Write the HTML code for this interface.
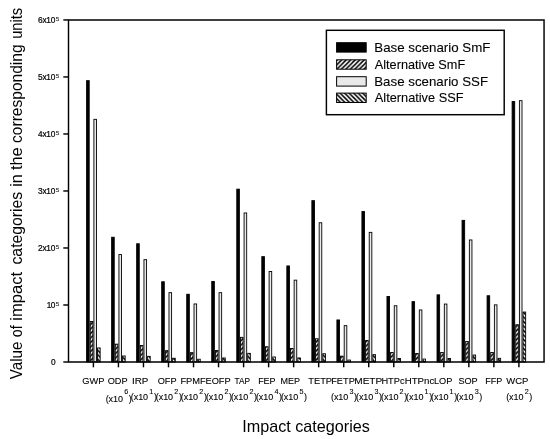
<!DOCTYPE html>
<html><head><meta charset="utf-8"><title>Impact categories</title>
<style>html,body{margin:0;padding:0;background:#fff}body{width:550px;height:439px;overflow:hidden}svg{display:block}text{font-family:"Liberation Sans",Arial,sans-serif;fill:#000}.b{stroke:#000;stroke-width:0.2px}.c{stroke:#000;stroke-width:0.1px}.d{stroke:#000;stroke-width:0.1px}</style>
</head><body>
<svg width="550" height="439" viewBox="0 0 550 439">
<defs>
<pattern id="h1" patternUnits="userSpaceOnUse" width="4.5" height="4.5" x="0.3" y="0.8"><rect width="4.5" height="4.5" fill="#fff"/><path d="M-1,1 L1,-1 M-1,5.5 L5.5,-1 M3.5,5.5 L5.5,3.5" stroke="#000" stroke-width="1.5"/></pattern>
<pattern id="h2" patternUnits="userSpaceOnUse" width="4.5" height="4.5" x="0.3" y="0.8"><rect width="4.5" height="4.5" fill="#fff"/><path d="M-1,3.5 L1,5.5 M-1,-1 L5.5,5.5 M3.5,-1 L5.5,1" stroke="#000" stroke-width="1.5"/></pattern>
</defs>
<rect width="550" height="439" fill="#fff"/>
<rect x="86.60" y="80.65" width="2.60" height="281.35" fill="#000" stroke="#000" stroke-width="0.9"/>
<rect x="90.25" y="321.55" width="2.60" height="40.45" fill="url(#h1)" stroke="#000" stroke-width="0.9"/>
<rect x="93.90" y="119.35" width="2.60" height="242.65" fill="#e9e9e9" stroke="#000" stroke-width="0.9"/>
<rect x="97.55" y="347.95" width="2.60" height="14.05" fill="url(#h2)" stroke="#000" stroke-width="0.9"/>
<rect x="111.63" y="237.25" width="2.60" height="124.75" fill="#000" stroke="#000" stroke-width="0.9"/>
<rect x="115.28" y="344.15" width="2.60" height="17.85" fill="url(#h1)" stroke="#000" stroke-width="0.9"/>
<rect x="118.93" y="254.55" width="2.60" height="107.45" fill="#e9e9e9" stroke="#000" stroke-width="0.9"/>
<rect x="122.58" y="355.95" width="2.60" height="6.05" fill="url(#h2)" stroke="#000" stroke-width="0.9"/>
<rect x="136.66" y="243.75" width="2.60" height="118.25" fill="#000" stroke="#000" stroke-width="0.9"/>
<rect x="140.31" y="345.55" width="2.60" height="16.45" fill="url(#h1)" stroke="#000" stroke-width="0.9"/>
<rect x="143.96" y="259.65" width="2.60" height="102.35" fill="#e9e9e9" stroke="#000" stroke-width="0.9"/>
<rect x="147.61" y="356.35" width="2.60" height="5.65" fill="url(#h2)" stroke="#000" stroke-width="0.9"/>
<rect x="161.69" y="281.75" width="2.60" height="80.25" fill="#000" stroke="#000" stroke-width="0.9"/>
<rect x="165.34" y="350.65" width="2.60" height="11.35" fill="url(#h1)" stroke="#000" stroke-width="0.9"/>
<rect x="168.99" y="292.65" width="2.60" height="69.35" fill="#e9e9e9" stroke="#000" stroke-width="0.9"/>
<rect x="172.64" y="358.25" width="2.60" height="3.75" fill="url(#h2)" stroke="#000" stroke-width="0.9"/>
<rect x="186.72" y="294.25" width="2.60" height="67.75" fill="#000" stroke="#000" stroke-width="0.9"/>
<rect x="190.37" y="352.65" width="2.60" height="9.35" fill="url(#h1)" stroke="#000" stroke-width="0.9"/>
<rect x="194.02" y="303.95" width="2.60" height="58.05" fill="#e9e9e9" stroke="#000" stroke-width="0.9"/>
<rect x="197.67" y="359.25" width="2.60" height="2.75" fill="url(#h2)" stroke="#000" stroke-width="0.9"/>
<rect x="211.75" y="281.55" width="2.60" height="80.45" fill="#000" stroke="#000" stroke-width="0.9"/>
<rect x="215.40" y="350.45" width="2.60" height="11.55" fill="url(#h1)" stroke="#000" stroke-width="0.9"/>
<rect x="219.05" y="292.65" width="2.60" height="69.35" fill="#e9e9e9" stroke="#000" stroke-width="0.9"/>
<rect x="222.70" y="357.95" width="2.60" height="4.05" fill="url(#h2)" stroke="#000" stroke-width="0.9"/>
<rect x="236.78" y="189.15" width="2.60" height="172.85" fill="#000" stroke="#000" stroke-width="0.9"/>
<rect x="240.43" y="337.35" width="2.60" height="24.65" fill="url(#h1)" stroke="#000" stroke-width="0.9"/>
<rect x="244.08" y="212.95" width="2.60" height="149.05" fill="#e9e9e9" stroke="#000" stroke-width="0.9"/>
<rect x="247.73" y="353.35" width="2.60" height="8.65" fill="url(#h2)" stroke="#000" stroke-width="0.9"/>
<rect x="261.81" y="256.65" width="2.60" height="105.35" fill="#000" stroke="#000" stroke-width="0.9"/>
<rect x="265.46" y="346.75" width="2.60" height="15.25" fill="url(#h1)" stroke="#000" stroke-width="0.9"/>
<rect x="269.11" y="271.45" width="2.60" height="90.55" fill="#e9e9e9" stroke="#000" stroke-width="0.9"/>
<rect x="272.76" y="356.95" width="2.60" height="5.05" fill="url(#h2)" stroke="#000" stroke-width="0.9"/>
<rect x="286.84" y="265.95" width="2.60" height="96.05" fill="#000" stroke="#000" stroke-width="0.9"/>
<rect x="290.49" y="348.45" width="2.60" height="13.55" fill="url(#h1)" stroke="#000" stroke-width="0.9"/>
<rect x="294.14" y="280.15" width="2.60" height="81.85" fill="#e9e9e9" stroke="#000" stroke-width="0.9"/>
<rect x="297.79" y="357.95" width="2.60" height="4.05" fill="url(#h2)" stroke="#000" stroke-width="0.9"/>
<rect x="311.87" y="200.65" width="2.60" height="161.35" fill="#000" stroke="#000" stroke-width="0.9"/>
<rect x="315.52" y="338.75" width="2.60" height="23.25" fill="url(#h1)" stroke="#000" stroke-width="0.9"/>
<rect x="319.17" y="222.75" width="2.60" height="139.25" fill="#e9e9e9" stroke="#000" stroke-width="0.9"/>
<rect x="322.82" y="353.75" width="2.60" height="8.25" fill="url(#h2)" stroke="#000" stroke-width="0.9"/>
<rect x="336.90" y="319.95" width="2.60" height="42.05" fill="#000" stroke="#000" stroke-width="0.9"/>
<rect x="340.55" y="356.15" width="2.60" height="5.85" fill="url(#h1)" stroke="#000" stroke-width="0.9"/>
<rect x="344.20" y="325.65" width="2.60" height="36.35" fill="#e9e9e9" stroke="#000" stroke-width="0.9"/>
<rect x="347.85" y="360.05" width="2.60" height="1.95" fill="url(#h2)" stroke="#000" stroke-width="0.9"/>
<rect x="361.93" y="211.55" width="2.60" height="150.45" fill="#000" stroke="#000" stroke-width="0.9"/>
<rect x="365.58" y="340.45" width="2.60" height="21.55" fill="url(#h1)" stroke="#000" stroke-width="0.9"/>
<rect x="369.23" y="232.35" width="2.60" height="129.65" fill="#e9e9e9" stroke="#000" stroke-width="0.9"/>
<rect x="372.88" y="354.65" width="2.60" height="7.35" fill="url(#h2)" stroke="#000" stroke-width="0.9"/>
<rect x="386.96" y="296.55" width="2.60" height="65.45" fill="#000" stroke="#000" stroke-width="0.9"/>
<rect x="390.61" y="352.45" width="2.60" height="9.55" fill="url(#h1)" stroke="#000" stroke-width="0.9"/>
<rect x="394.26" y="305.75" width="2.60" height="56.25" fill="#e9e9e9" stroke="#000" stroke-width="0.9"/>
<rect x="397.91" y="358.55" width="2.60" height="3.45" fill="url(#h2)" stroke="#000" stroke-width="0.9"/>
<rect x="411.99" y="301.65" width="2.60" height="60.35" fill="#000" stroke="#000" stroke-width="0.9"/>
<rect x="415.64" y="353.55" width="2.60" height="8.45" fill="url(#h1)" stroke="#000" stroke-width="0.9"/>
<rect x="419.29" y="309.95" width="2.60" height="52.05" fill="#e9e9e9" stroke="#000" stroke-width="0.9"/>
<rect x="422.94" y="359.05" width="2.60" height="2.95" fill="url(#h2)" stroke="#000" stroke-width="0.9"/>
<rect x="437.02" y="294.85" width="2.60" height="67.15" fill="#000" stroke="#000" stroke-width="0.9"/>
<rect x="440.67" y="352.45" width="2.60" height="9.55" fill="url(#h1)" stroke="#000" stroke-width="0.9"/>
<rect x="444.32" y="304.05" width="2.60" height="57.95" fill="#e9e9e9" stroke="#000" stroke-width="0.9"/>
<rect x="447.97" y="358.45" width="2.60" height="3.55" fill="url(#h2)" stroke="#000" stroke-width="0.9"/>
<rect x="462.05" y="220.35" width="2.60" height="141.65" fill="#000" stroke="#000" stroke-width="0.9"/>
<rect x="465.70" y="341.55" width="2.60" height="20.45" fill="url(#h1)" stroke="#000" stroke-width="0.9"/>
<rect x="469.35" y="239.95" width="2.60" height="122.05" fill="#e9e9e9" stroke="#000" stroke-width="0.9"/>
<rect x="473.00" y="355.05" width="2.60" height="6.95" fill="url(#h2)" stroke="#000" stroke-width="0.9"/>
<rect x="487.08" y="295.75" width="2.60" height="66.25" fill="#000" stroke="#000" stroke-width="0.9"/>
<rect x="490.73" y="352.45" width="2.60" height="9.55" fill="url(#h1)" stroke="#000" stroke-width="0.9"/>
<rect x="494.38" y="304.85" width="2.60" height="57.15" fill="#e9e9e9" stroke="#000" stroke-width="0.9"/>
<rect x="498.03" y="358.35" width="2.60" height="3.65" fill="url(#h2)" stroke="#000" stroke-width="0.9"/>
<rect x="512.11" y="101.55" width="2.60" height="260.45" fill="#000" stroke="#000" stroke-width="0.9"/>
<rect x="515.76" y="324.75" width="2.60" height="37.25" fill="url(#h1)" stroke="#000" stroke-width="0.9"/>
<rect x="519.41" y="100.65" width="2.60" height="261.35" fill="#e9e9e9" stroke="#000" stroke-width="0.9"/>
<rect x="523.06" y="312.05" width="2.60" height="49.95" fill="url(#h2)" stroke="#000" stroke-width="0.9"/>
<path d="M68.5,19.95 H544.05 V362.0 H68.5 Z" fill="none" stroke="#000" stroke-width="1.45"/>
<path d="M63.3,362.00 H68.5" stroke="#000" stroke-width="1.45"/>
<text x="55.6" y="365.00" font-size="8.3" text-anchor="end" class="b">0</text>
<path d="M63.3,304.99 H68.5" stroke="#000" stroke-width="1.45"/>
<text x="46.7" y="307.99" font-size="8.3" textLength="8.6" lengthAdjust="spacing" class="b">10</text>
<text x="55.7" y="305.69" font-size="5.9" textLength="3.6" lengthAdjust="spacingAndGlyphs" fill="#222">5</text>
<path d="M63.3,247.98 H68.5" stroke="#000" stroke-width="1.45"/>
<text x="38.1" y="250.98" font-size="8.3" textLength="17.2" lengthAdjust="spacing" class="b">2x10</text>
<text x="55.7" y="248.68" font-size="5.9" textLength="3.6" lengthAdjust="spacingAndGlyphs" fill="#222">5</text>
<path d="M63.3,190.97 H68.5" stroke="#000" stroke-width="1.45"/>
<text x="38.1" y="193.97" font-size="8.3" textLength="17.2" lengthAdjust="spacing" class="b">3x10</text>
<text x="55.7" y="191.67" font-size="5.9" textLength="3.6" lengthAdjust="spacingAndGlyphs" fill="#222">5</text>
<path d="M63.3,133.97 H68.5" stroke="#000" stroke-width="1.45"/>
<text x="38.1" y="136.97" font-size="8.3" textLength="17.2" lengthAdjust="spacing" class="b">4x10</text>
<text x="55.7" y="134.67" font-size="5.9" textLength="3.6" lengthAdjust="spacingAndGlyphs" fill="#222">5</text>
<path d="M63.3,76.96 H68.5" stroke="#000" stroke-width="1.45"/>
<text x="38.1" y="79.96" font-size="8.3" textLength="17.2" lengthAdjust="spacing" class="b">5x10</text>
<text x="55.7" y="77.66" font-size="5.9" textLength="3.6" lengthAdjust="spacingAndGlyphs" fill="#222">5</text>
<path d="M63.3,19.95 H68.5" stroke="#000" stroke-width="1.45"/>
<text x="38.1" y="22.95" font-size="8.3" textLength="17.2" lengthAdjust="spacing" class="b">6x10</text>
<text x="55.7" y="20.65" font-size="5.9" textLength="3.6" lengthAdjust="spacingAndGlyphs" fill="#222">5</text>
<path d="M93.40,362.0 V367.3" stroke="#000" stroke-width="1.45"/>
<path d="M118.43,362.0 V367.3" stroke="#000" stroke-width="1.45"/>
<path d="M143.46,362.0 V367.3" stroke="#000" stroke-width="1.45"/>
<path d="M168.49,362.0 V367.3" stroke="#000" stroke-width="1.45"/>
<path d="M193.52,362.0 V367.3" stroke="#000" stroke-width="1.45"/>
<path d="M218.55,362.0 V367.3" stroke="#000" stroke-width="1.45"/>
<path d="M243.58,362.0 V367.3" stroke="#000" stroke-width="1.45"/>
<path d="M268.61,362.0 V367.3" stroke="#000" stroke-width="1.45"/>
<path d="M293.64,362.0 V367.3" stroke="#000" stroke-width="1.45"/>
<path d="M318.67,362.0 V367.3" stroke="#000" stroke-width="1.45"/>
<path d="M343.70,362.0 V367.3" stroke="#000" stroke-width="1.45"/>
<path d="M368.73,362.0 V367.3" stroke="#000" stroke-width="1.45"/>
<path d="M393.76,362.0 V367.3" stroke="#000" stroke-width="1.45"/>
<path d="M418.79,362.0 V367.3" stroke="#000" stroke-width="1.45"/>
<path d="M443.82,362.0 V367.3" stroke="#000" stroke-width="1.45"/>
<path d="M468.85,362.0 V367.3" stroke="#000" stroke-width="1.45"/>
<path d="M493.88,362.0 V367.3" stroke="#000" stroke-width="1.45"/>
<path d="M518.91,362.0 V367.3" stroke="#000" stroke-width="1.45"/>
<text transform="translate(82.18,383.5) scale(1.0341,1)" font-size="9" class="c">GWP</text>
<text transform="translate(107.72,383.5) scale(1.0201,1)" font-size="9" class="c">ODP</text>
<text transform="translate(132.04,383.5) scale(1.0936,1)" font-size="9" class="c">IRP</text>
<text transform="translate(157.72,383.5) scale(1.0213,1)" font-size="9" class="c">OFP</text>
<text transform="translate(180.42,383.5) scale(1.0353,1)" font-size="9" class="c">FPMF</text>
<text transform="translate(205.53,383.5) scale(1.0280,1)" font-size="9" class="c">EOFP</text>
<text transform="translate(234.47,383.5) scale(0.9240,1)" font-size="9" class="c">TAP</text>
<text transform="translate(258.15,383.5) scale(0.9969,1)" font-size="9" class="c">FEP</text>
<text transform="translate(280.55,383.5) scale(1.0027,1)" font-size="9" class="c">MEP</text>
<text transform="translate(308.24,383.5) scale(1.0382,1)" font-size="9" class="c">TETP</text>
<text transform="translate(331.23,383.5) scale(1.0253,1)" font-size="9" class="c">FETP</text>
<text transform="translate(354.26,383.5) scale(1.1200,1)" font-size="9" class="c">METP</text>
<text transform="translate(381.43,383.5) scale(1.0279,1)" font-size="9" class="c">HTPc</text>
<text transform="translate(404.69,383.5) scale(1.0755,1)" font-size="9" class="c">HTPnc</text>
<text transform="translate(433.93,383.5) scale(1.0209,1)" font-size="9" class="c">LOP</text>
<text transform="translate(458.39,383.5) scale(1.0167,1)" font-size="9" class="c">SOP</text>
<text transform="translate(485.15,383.5) scale(1.0032,1)" font-size="9" class="c">FFP</text>
<text transform="translate(506.30,383.5) scale(1.0537,1)" font-size="9" class="c">WCP</text>
<text x="105.7" y="401.8" font-size="9" textLength="17.3" lengthAdjust="spacing" class="c">(x10</text>
<text x="124.2" y="394.1" font-size="7.2" class="c">6</text>
<text x="128.8" y="401.8" font-size="9" class="c">)</text>
<text x="130.8" y="400.0" font-size="9" textLength="17.3" lengthAdjust="spacing" class="c">(x10</text>
<text x="149.3" y="394.1" font-size="7.2" class="c">1</text>
<text x="153.9" y="400.0" font-size="9" class="c">)</text>
<text x="155.8" y="400.0" font-size="9" textLength="17.3" lengthAdjust="spacing" class="c">(x10</text>
<text x="174.3" y="394.1" font-size="7.2" class="c">2</text>
<text x="178.9" y="400.0" font-size="9" class="c">)</text>
<text x="180.8" y="400.0" font-size="9" textLength="17.3" lengthAdjust="spacing" class="c">(x10</text>
<text x="199.3" y="394.1" font-size="7.2" class="c">2</text>
<text x="203.9" y="400.0" font-size="9" class="c">)</text>
<text x="205.9" y="400.0" font-size="9" textLength="17.3" lengthAdjust="spacing" class="c">(x10</text>
<text x="224.4" y="394.1" font-size="7.2" class="c">2</text>
<text x="229.0" y="400.0" font-size="9" class="c">)</text>
<text x="230.9" y="400.0" font-size="9" textLength="17.3" lengthAdjust="spacing" class="c">(x10</text>
<text x="249.4" y="394.1" font-size="7.2" class="c">2</text>
<text x="254.0" y="400.0" font-size="9" class="c">)</text>
<text x="255.9" y="400.0" font-size="9" textLength="17.3" lengthAdjust="spacing" class="c">(x10</text>
<text x="274.4" y="394.1" font-size="7.2" class="c">4</text>
<text x="279.0" y="400.0" font-size="9" class="c">)</text>
<text x="280.9" y="400.0" font-size="9" textLength="17.3" lengthAdjust="spacing" class="c">(x10</text>
<text x="299.4" y="394.1" font-size="7.2" class="c">5</text>
<text x="304.0" y="400.0" font-size="9" class="c">)</text>
<text x="331.0" y="400.0" font-size="9" textLength="17.3" lengthAdjust="spacing" class="c">(x10</text>
<text x="349.5" y="394.1" font-size="7.2" class="c">3</text>
<text x="354.1" y="400.0" font-size="9" class="c">)</text>
<text x="356.0" y="400.0" font-size="9" textLength="17.3" lengthAdjust="spacing" class="c">(x10</text>
<text x="374.5" y="394.1" font-size="7.2" class="c">3</text>
<text x="379.1" y="400.0" font-size="9" class="c">)</text>
<text x="381.1" y="400.0" font-size="9" textLength="17.3" lengthAdjust="spacing" class="c">(x10</text>
<text x="399.6" y="394.1" font-size="7.2" class="c">2</text>
<text x="404.2" y="400.0" font-size="9" class="c">)</text>
<text x="406.1" y="400.0" font-size="9" textLength="17.3" lengthAdjust="spacing" class="c">(x10</text>
<text x="424.6" y="394.1" font-size="7.2" class="c">1</text>
<text x="429.2" y="400.0" font-size="9" class="c">)</text>
<text x="431.1" y="400.0" font-size="9" textLength="17.3" lengthAdjust="spacing" class="c">(x10</text>
<text x="449.6" y="394.1" font-size="7.2" class="c">1</text>
<text x="454.2" y="400.0" font-size="9" class="c">)</text>
<text x="456.2" y="400.0" font-size="9" textLength="17.3" lengthAdjust="spacing" class="c">(x10</text>
<text x="474.7" y="394.1" font-size="7.2" class="c">3</text>
<text x="479.3" y="400.0" font-size="9" class="c">)</text>
<text x="506.2" y="400.0" font-size="9" textLength="17.3" lengthAdjust="spacing" class="c">(x10</text>
<text x="524.7" y="394.1" font-size="7.2" class="c">2</text>
<text x="529.3" y="400.0" font-size="9" class="c">)</text>
<text transform="translate(242.28,432.3) scale(1.0109,1)" font-size="16">Impact categories</text>
<text transform="translate(22.2,379.32) rotate(-90) scale(0.9543,1)" font-size="16">Value</text>
<text transform="translate(22.2,337.16) rotate(-90) scale(0.8941,1)" font-size="16">of</text>
<text transform="translate(22.2,320.66) rotate(-90) scale(1.0332,1)" font-size="16">impact</text>
<text transform="translate(22.2,264.52) rotate(-90) scale(0.9859,1)" font-size="16">categories</text>
<text transform="translate(22.2,186.73) rotate(-90) scale(1.0049,1)" font-size="16">in</text>
<text transform="translate(22.2,170.06) rotate(-90) scale(1.0259,1)" font-size="16">the</text>
<text transform="translate(22.2,142.91) rotate(-90) scale(0.9724,1)" font-size="16">corresponding</text>
<text transform="translate(22.2,38.81) rotate(-90) scale(0.9147,1)" font-size="16">units</text>
<rect x="326.4" y="30.3" width="177.8" height="84.4" fill="#fff" stroke="#000" stroke-width="1.45"/>
<rect x="336.6" y="42.7" width="29.6" height="9.4" fill="#000" stroke="#000" stroke-width="1"/>
<rect x="336.6" y="59.8" width="29.6" height="9.4" fill="url(#h1)" stroke="#000" stroke-width="1"/>
<rect x="336.6" y="76.7" width="29.6" height="9.4" fill="#e9e9e9" stroke="#000" stroke-width="1"/>
<rect x="336.6" y="93.1" width="29.6" height="9.4" fill="url(#h2)" stroke="#000" stroke-width="1"/>
<text transform="translate(374.25,52.4) scale(1.0255,1)" font-size="13" class="d">Base scenario SmF</text>
<text transform="translate(374.80,68.9) scale(0.9783,1)" font-size="13" class="d">Alternative SmF</text>
<text transform="translate(374.25,85.5) scale(1.0244,1)" font-size="13" class="d">Base scenario SSF</text>
<text transform="translate(374.80,102.0) scale(0.9827,1)" font-size="13" class="d">Alternative SSF</text>
</svg>
</body></html>
